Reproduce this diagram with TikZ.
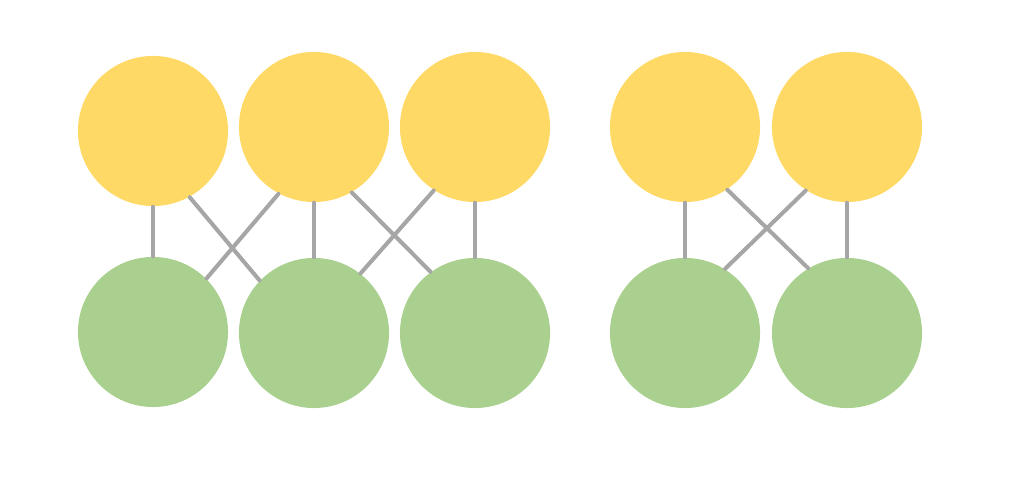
\documentclass[tikz,border=0pt]{standalone}
\usepackage{tikz}
\definecolor{topyellow}{RGB}{255,217,102}
\definecolor{botgreen}{RGB}{169,208,142}
\definecolor{linkgray}{RGB}{166,166,166}

\begin{document}
\begin{tikzpicture}[x=0.01cm,y=-0.01cm]
\tikzstyle{every node}+=[inner sep=0pt]
\tikzstyle{top}=[circle,fill=topyellow,minimum size=1.5cm]
\tikzstyle{bot}=[circle,fill=botgreen,minimum size=1.5cm]
\tikzstyle{link}=[linkgray,line width=1.15pt,line cap=round]
\useasboundingbox (0,0) rectangle (1024,486);
% top row
\node [top] (y1) at (153,131) {};
\node [top] (y2) at (314,127) {};
\node [top] (y3) at (475,127) {};
\node [top] (y4) at (685,127) {};
\node [top] (y5) at (847,127) {};
% bottom row
\node [bot] (g1) at (153,332) {};
\node [bot] (g2) at (314,333) {};
\node [bot] (g3) at (475,333) {};
\node [bot] (g4) at (685,333) {};
\node [bot] (g5) at (847,333) {};
% links
\draw [link] (y1.south) -- (g1.north);
\draw [link] (y2.south) -- (g2.north);
\draw [link] (y3.south) -- (g3.north);
\draw [link] (y4.south) -- (g4.north);
\draw [link] (y5.south) -- (g5.north);
\draw [link] (y1.-61) -- (g2.136);
\draw [link] (y2.-118) -- (g1.45);
\draw [link] (y2.-60) -- (g3.126);
\draw [link] (y3.-123) -- (g2.52);
\draw [link] (y4.-56) -- (g5.121);
\draw [link] (y5.-123) -- (g4.58);
\end{tikzpicture}
\end{document}
